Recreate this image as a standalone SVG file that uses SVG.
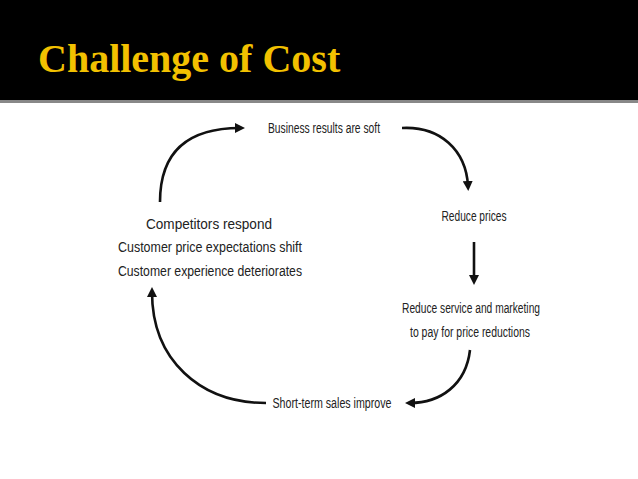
<svg xmlns="http://www.w3.org/2000/svg" width="638" height="479" viewBox="0 0 638 479">
<style>
.t{font-family:"Liberation Sans",Arial,sans-serif;font-size:14px;fill:#222;text-anchor:middle}
.c{fill:none;stroke:#111;stroke-width:2.6}
</style>
<defs><marker id="a" markerWidth="10" markerHeight="10" refX="5" refY="5" orient="auto" markerUnits="userSpaceOnUse"><path d="M0,0 L10,5 L0,10 z" fill="#111"/></marker></defs>
<rect width="638" height="479" fill="#fff"/>
<rect width="638" height="100" fill="#000"/>
<rect y="100" width="638" height="3" fill="#888"/>
<text x="38" y="72" font-family="Liberation Serif,serif" font-weight="bold" font-size="40" fill="#f2c100">Challenge of Cost</text>
<g id="connectors">
<path class="c" d="M160,202 C160,150 190,128 240,128" marker-end="url(#a)"/>
<path class="c" d="M402,128 C440,126 466,150 468,186" marker-end="url(#a)"/>
<path class="c" d="M474,242 L474,280" marker-end="url(#a)"/>
<path class="c" d="M470,350 C466,385 440,403 410,403" marker-end="url(#a)"/>
<path class="c" d="M266,403 C200,403 152,360 152,292" marker-end="url(#a)"/>
</g>
<g id="n1"><text class="t" x="324" y="133" textLength="112" lengthAdjust="spacingAndGlyphs">Business results are soft</text></g>
<g id="n2"><text class="t" x="474" y="221" textLength="65" lengthAdjust="spacingAndGlyphs">Reduce prices</text></g>
<g id="n3"><text class="t" x="471" y="313" textLength="138" lengthAdjust="spacingAndGlyphs">Reduce service and marketing</text><text class="t" x="470" y="337" textLength="120" lengthAdjust="spacingAndGlyphs">to pay for price reductions</text></g>
<g id="n4"><text class="t" x="332" y="408" textLength="119" lengthAdjust="spacingAndGlyphs">Short-term sales improve</text></g>
<g id="n5"><text class="t" x="209" y="229" textLength="126" lengthAdjust="spacingAndGlyphs">Competitors respond</text><text class="t" x="210" y="252" textLength="184" lengthAdjust="spacingAndGlyphs">Customer price expectations shift</text><text class="t" x="210" y="276" textLength="184" lengthAdjust="spacingAndGlyphs">Customer experience deteriorates</text></g>
</svg>
